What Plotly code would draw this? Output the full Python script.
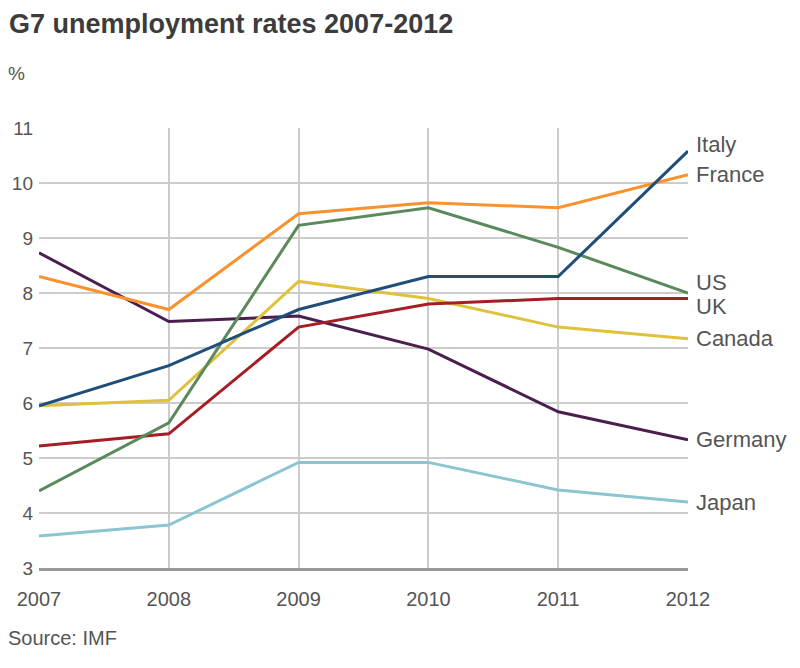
import plotly.graph_objects as go

years = [2007, 2008, 2009, 2010, 2011, 2012]
italy = [5.95, 6.68, 7.7, 8.3, 8.3, 10.58]
france = [8.3, 7.7, 9.44, 9.64, 9.55, 10.15]
us = [4.4, 5.64, 9.23, 9.55, 8.83, 8.0]
uk = [5.22, 5.44, 7.38, 7.8, 7.9, 7.9]
canada = [5.95, 6.05, 8.21, 7.9, 7.38, 7.17]
germany = [8.73, 7.48, 7.58, 6.98, 5.84, 5.33]
japan = [3.58, 3.78, 4.92, 4.92, 4.42, 4.2]
y_ticks = [3, 4, 5, 6, 7, 8, 9, 10, 11]

series = [
    ("Japan", japan, "#8cc5d2", 0),
    ("Germany", germany, "#4a1f4e", 0),
    ("Canada", canada, "#dfc13c", 0),
    ("UK", uk, "#a51d25", -8),
    ("US", us, "#5a8a5b", 11),
    ("France", france, "#f7922f", 0),
    ("Italy", italy, "#1e4e79", 7),
]

FONT = "Liberation Sans, Arial"
fig = go.Figure()
annotations = []
for name, vals, color, shift in series:
    fig.add_trace(go.Scatter(x=years, y=vals, mode="lines", name=name,
                             line=dict(color=color, width=3), hoverinfo="skip"))
    annotations.append(dict(x=years[-1], y=vals[-1], xref="x", yref="y", text=name,
                            showarrow=False, xanchor="left", yanchor="middle",
                            xshift=6, yshift=shift,
                            font=dict(size=22, color="#555555", family=FONT)))

PW, PH, L, T = 657, 440, 31, 128
def px(x): return (x - L) / PW
def py(y): return (T + PH - y) / PH

annotations += [
    dict(x=px(-1), y=py(24), xref="paper", yref="paper", text="<b>G7 unemployment rates 2007-2012</b>",
         showarrow=False, xanchor="left", yanchor="middle",
         font=dict(size=27, color="#3c3c3c", family=FONT)),
    dict(x=px(-2), y=py(73), xref="paper", yref="paper", text="%",
         showarrow=False, xanchor="left", yanchor="middle",
         font=dict(size=19, color="#555555", family=FONT)),
    dict(x=px(-2), y=py(638), xref="paper", yref="paper", text="Source: IMF",
         showarrow=False, xanchor="left", yanchor="middle",
         font=dict(size=20, color="#555555", family=FONT)),
]

fig.update_layout(
    width=800, height=668,
    margin=dict(l=L, r=800 - L - PW, t=T, b=668 - T - PH, pad=0),
    paper_bgcolor="white", plot_bgcolor="white",
    showlegend=False,
    annotations=annotations,
    font=dict(family=FONT, color="#555555"),
)
fig.update_xaxes(range=[2007, 2012], tickvals=years, ticktext=[str(y) for y in years],
                 showgrid=True, gridcolor="#cccccc", gridwidth=1.5,
                 showline=True, linecolor="#999999", linewidth=3, mirror=False,
                 zeroline=False, ticks="", ticklabelstandoff=11,
                 tickfont=dict(size=20, color="#555555"))
fig.update_yaxes(range=[3, 11], tickvals=y_ticks,
                 showgrid=True, gridcolor="#cccccc", gridwidth=1.5,
                 showline=False, zeroline=False, ticks="", ticklabelstandoff=5,
                 tickfont=dict(size=19, color="#555555"))
fig.write_html("out.html")
